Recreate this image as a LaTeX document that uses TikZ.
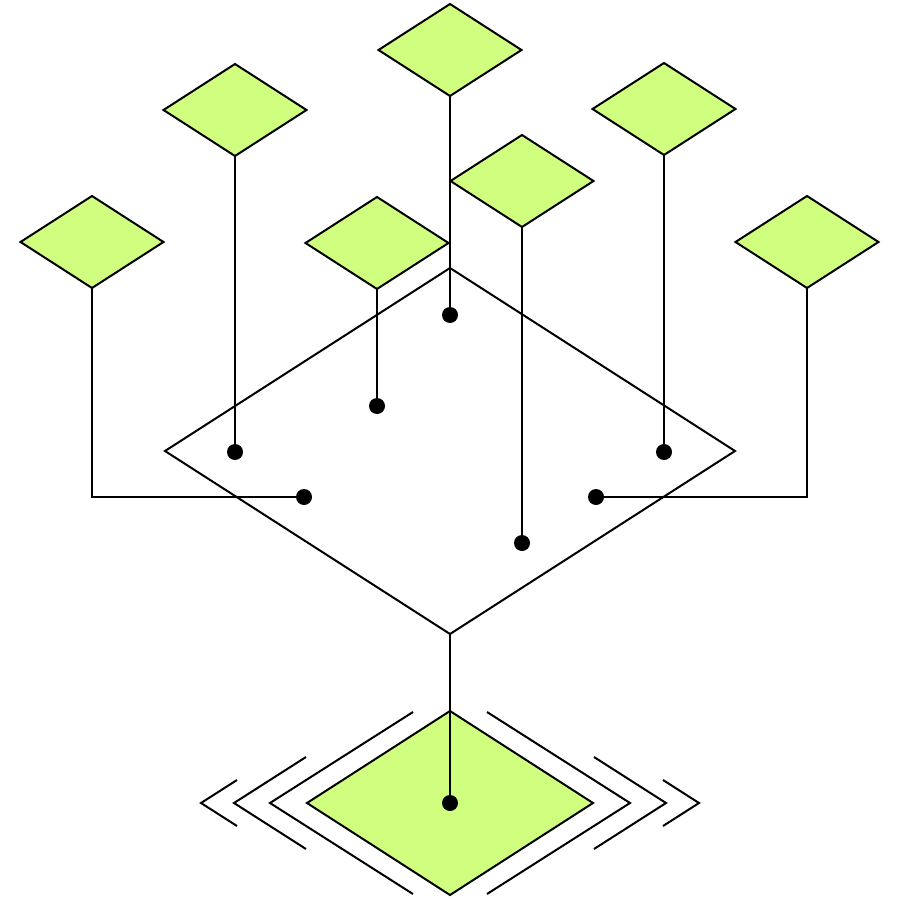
\documentclass[tikz,border=0pt]{standalone}
\usetikzlibrary{shapes.geometric}
\definecolor{leaf}{RGB}{208,255,128}
\begin{document}
\begin{tikzpicture}[x=1pt,y=-1pt,line width=2pt,
  leafbox/.style={diamond,draw=black,fill=leaf,minimum width=143pt,minimum height=92pt,inner sep=0pt,outer sep=0pt},
  bigbox/.style={diamond,draw=black,minimum width=570pt,minimum height=366pt,inner sep=0pt,outer sep=0pt},
  rootbox/.style={diamond,draw=black,fill=leaf,minimum width=286pt,minimum height=184pt,inner sep=0pt,outer sep=0pt},
  blackdot/.style={circle,fill=black,minimum size=16pt,inner sep=0pt,outer sep=0pt},
  wire/.style={draw=black,line width=2pt},
  chev/.style={draw=black,line width=2pt}]
\useasboundingbox (0,0) rectangle (900,901);
% main plate
\node[bigbox] (plate) at (450,451) {};
% root
\node[rootbox] (root) at (450,803) {};
% chevrons
\draw[chev] (413,712) -- (270,803) -- (413,894);
\draw[chev] (306,757) -- (234,803) -- (306,849);
\draw[chev] (237,780) -- (201,803) -- (237,826);
\draw[chev] (487,712) -- (630,803) -- (487,894);
\draw[chev] (594,757) -- (666,803) -- (594,849);
\draw[chev] (663,780) -- (699,803) -- (663,826);
% dots
\node[blackdot] (d1) at (450,315) {};
\node[blackdot] (d2) at (235,452) {};
\node[blackdot] (d3) at (304,497) {};
\node[blackdot] (d4) at (377,406) {};
\node[blackdot] (d5) at (522,543) {};
\node[blackdot] (d6) at (664,452) {};
\node[blackdot] (d7) at (596,497) {};
\node[blackdot] (d8) at (450,803) {};
% leaves
\node[leafbox] (l1) at (450,50) {};
\node[leafbox] (l2) at (235,110) {};
\node[leafbox] (l3) at (92,242) {};
\node[leafbox] (l4) at (377,243) {};
\node[leafbox] (l5) at (522,181) {};
\node[leafbox] (l6) at (664,109) {};
\node[leafbox] (l7) at (807,242) {};
% wires
\draw[wire] (l1.south) -- (d1.center);
\draw[wire] (l2.south) -- (d2.center);
\draw[wire] (l3.south) |- (d3.center);
\draw[wire] (l4.south) -- (d4.center);
\draw[wire] (l5.south) -- (d5.center);
\draw[wire] (l6.south) -- (d6.center);
\draw[wire] (l7.south) |- (d7.center);
\draw[wire] (plate.south) -- (d8.center);
\end{tikzpicture}
\end{document}
